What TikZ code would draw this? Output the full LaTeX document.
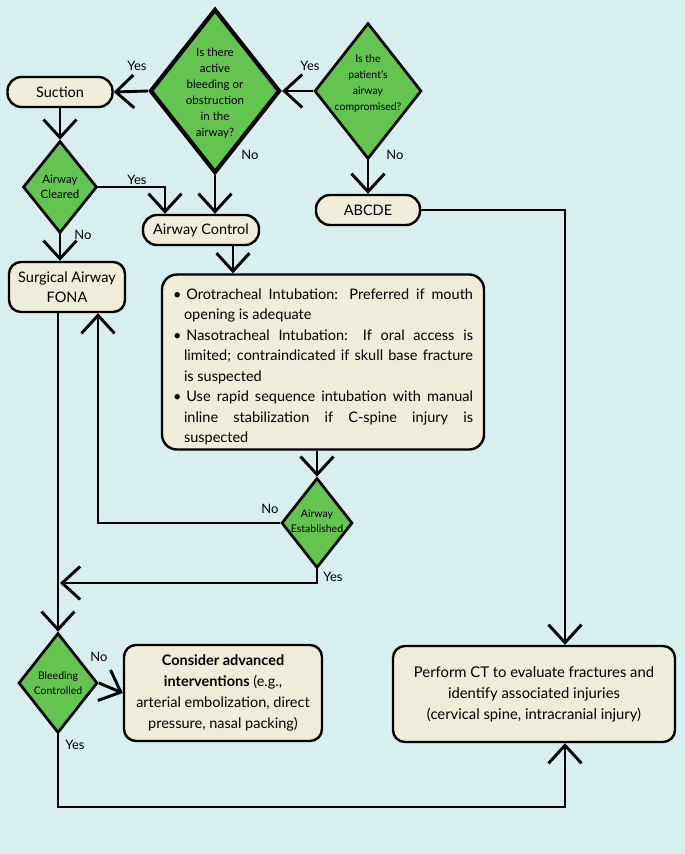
\documentclass[tikz,border=0pt]{standalone}
\usepackage{fontspec}
\setmainfont{Lato}
\usetikzlibrary{shapes.geometric,arrows.meta}
\definecolor{bg}{HTML}{D7EFEF}
\definecolor{dgreen}{HTML}{63C54F}
\definecolor{cream}{HTML}{EFECDA}
\begin{document}
\begin{tikzpicture}[x=1pt,y=-1pt,
  box/.style={draw=black,line width=2.4pt,fill=cream,rounded corners=12pt,inner sep=0pt,align=center,font=\fontsize{14.5}{20.5}\selectfont},
  dia/.style={draw=black,diamond,fill=dgreen,line width=2.7pt,inner sep=0pt},
  dtext/.style={align=center,inner sep=0pt},
  conn/.style={line width=2.9pt,-{Straight Barb[length=18pt,width=33pt]}},
  lbl/.style={font=\fontsize{13}{15}\selectfont,inner sep=0pt}]
\useasboundingbox[fill=bg] (0,0) rectangle (685,854);

% decision nodes
\node[dia,line width=4.2pt,minimum width=130pt,minimum height=164pt] (bigq) at (215,91) {};
\node[dtext,font=\fontsize{11.5}{16}\selectfont] (bigqt) at (215,93) {Is there\\active\\bleeding or\\obstruction\\in the\\airway?};
\node[dia,minimum width=107pt,minimum height=136pt] (pq) at (368,91) {};
\node[dtext,font=\fontsize{10.5}{16}\selectfont] (pqt) at (368,84) {Is the\\patient's\\airway\\compromised?};
\node[dia,minimum width=74pt,minimum height=92pt] (cleared) at (60,187) {};
\node[dtext,font=\fontsize{11.5}{15}\selectfont] (clearedt) at (60,187) {Airway\\Cleared};
\node[dia,minimum width=71pt,minimum height=90pt] (est) at (317,523) {};
\node[dtext,font=\fontsize{10.5}{15.5}\selectfont] (estt) at (317,521) {Airway\\Established};
\node[dia,minimum width=79pt,minimum height=100pt] (bleed) at (58,683) {};
\node[dtext,font=\fontsize{10.5}{15.5}\selectfont] (bleedt) at (58,683) {Bleeding\\Controlled};

% boxes
\node[box,rounded corners=14pt,minimum width=105pt,minimum height=30pt] (suction) at (60,92) {Suction};
\node[box,rounded corners=14pt,minimum width=116pt,minimum height=30pt] (control) at (201,230) {Airway Control};
\node[box,rounded corners=14pt,minimum width=104pt,minimum height=30pt] (abcde) at (368,210) {ABCDE};
\node[box,minimum width=116pt,minimum height=50pt] (fona) at (67,287) {Surgical Airway\\FONA};
\node[box,rounded corners=15pt,minimum width=322pt,minimum height=175pt,align=justify,text width=300pt] (list) at (323,362) {%
  \hyphenpenalty=10000
  \begin{list}{\textbullet}{\setlength\leftmargin{11pt}\setlength\labelwidth{6pt}\setlength\labelsep{5pt}%
    \setlength\itemsep{0pt}\setlength\parsep{0pt}\setlength\topsep{0pt}\setlength\partopsep{0pt}}
  \item Orotracheal Intubation: Preferred if mouth opening is adequate
  \item Nasotracheal Intubation: If oral access is limited; contraindicated if skull base fracture is suspected
  \item Use rapid sequence intubation with manual inline stabilization if C-spine injury is suspected
  \end{list}};
\node[box,minimum width=198pt,minimum height=96pt,font=\fontsize{14.5}{21}\selectfont] (consider) at (223,693) {\textbf{Consider advanced}\\\textbf{interventions} (e.g.,\\arterial embolization, direct\\pressure, nasal packing)};
\node[box,minimum width=282pt,minimum height=96pt,font=\fontsize{14.8}{21}\selectfont] (ct) at (534,694) {Perform CT to evaluate fractures and\\identify associated injuries\\(cervical spine, intracranial injury)};

% helper coordinates
\coordinate (cy) at (165,0);
\coordinate (ctx) at (565,0);
\coordinate (lx) at (233,0);
\coordinate (fx) at (98,0);
\coordinate (yesend) at (60,583);
\coordinate (bot) at (0,807);

% connectors
\draw[conn] (pq.west) -- (bigq.east);
\draw[conn] (bigq.west) -- (suction.east);
\draw[conn] (suction.south) -- (cleared.north);
\draw[conn] (cleared.east) -| (cy |- control.north);
\draw[conn] (bigq.south) -- (bigq.south |- control.north);
\draw[conn] (pq.south) -- (abcde.north);
\draw[conn] (abcde.east) -| (ctx |- ct.north);
\draw[conn] (cleared.south) -- (cleared.south |- fona.north);
\draw[conn] (lx |- control.south) -- (lx |- list.north);
\draw[conn] (est.north |- list.south) -- (est.north);
\draw[conn] (est.west) -| (fx |- fona.south);
\draw[conn] (est.south) |- (yesend);
\draw[conn] (bleed.north |- fona.south) -- (bleed.north);
\draw[conn] (bleed.east) -- (consider.west);
\draw[conn] (bleed.south) |- (bot -| ctx) -- (ctx |- ct.south);

% labels
\node[lbl] (l1) at (310,66) {Yes};
\node[lbl] (l2) at (137,66) {Yes};
\node[lbl] (l3) at (137,180) {Yes};
\node[lbl] (l4) at (250,155) {No};
\node[lbl] (l5) at (395,155) {No};
\node[lbl] (l6) at (83,235) {No};
\node[lbl] (l7) at (270,509) {No};
\node[lbl] (l8) at (333,577) {Yes};
\node[lbl] (l9) at (99,657) {No};
\node[lbl] (l10) at (75,745) {Yes};
\end{tikzpicture}
\end{document}
